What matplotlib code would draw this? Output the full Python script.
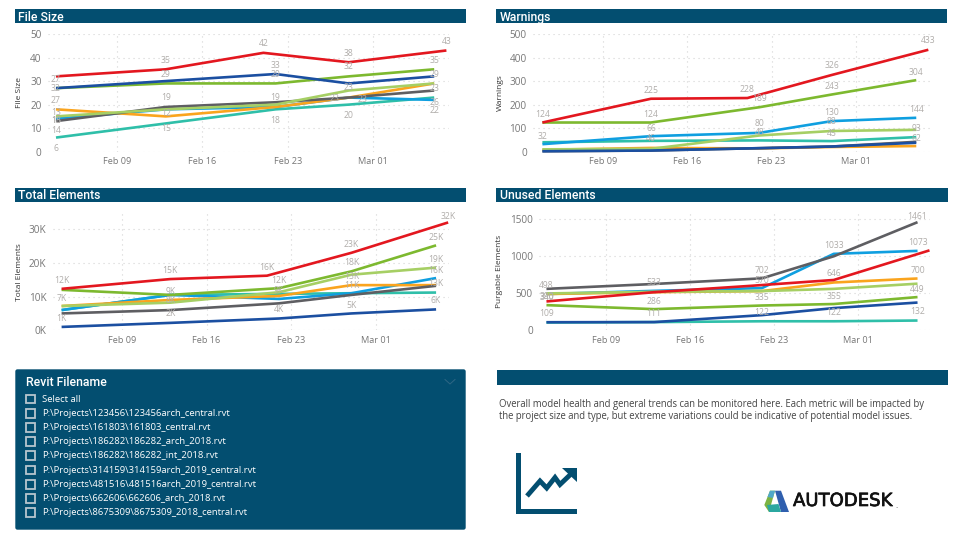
import matplotlib
matplotlib.use('Agg')
import matplotlib.pyplot as plt
import matplotlib.dates as mdates
import matplotlib.patheffects as pe
import pandas as pd
from matplotlib.patches import FancyBboxPatch, Polygon, Rectangle

plt.rcParams['font.family'] = ['Open Sans', 'DejaVu Sans']

W, H = 960, 538

# dates of the snapshots (red is a different model, its dates are a bit off)
dates = pd.to_datetime(['2020-02-04', '2020-02-13', '2020-02-22', '2020-02-28', '2020-03-06'])
dates_red = pd.to_datetime(['2020-02-04', '2020-02-13', '2020-02-21', '2020-02-28', '2020-03-07'])
tick_dates = pd.to_datetime(['2020-02-09', '2020-02-16', '2020-02-23', '2020-03-01'])
tick_names = ['Feb 09', 'Feb 16', 'Feb 23', 'Mar 01']

# File Size
size_teal = [6, 12, 18, 20, 23]
size_sky = [14, 18, 19, 23, 22]
size_orange = [18, 15, 19, 23, 29]
size_lime = [15, 18, 20, 26, 29]
size_green = [27, 29, 29, 32, 35]
size_blue = [27, 30, 33, 29, 32]
size_gray = [13, 19, 21, 23, 26]
size_red = [32, 35, 42, 38, 43]

# Warnings
warn_teal = [40, 46, 48, 45, 62]
warn_sky = [32, 66, 80, 130, 144]
warn_orange = [8, 16, 14, 20, 24]
warn_lime = [10, 12, 69, 88, 93]
warn_green = [124, 124, 189, 243, 304]
warn_blue = [2, 5, 15, 22, 38]
warn_gray = [2, 5, 15, 22, 42]
warn_red = [124, 225, 228, 326, 433]

# Total Elements (thousands)
total_teal = [6, 10.5, 10.8, 11, 11.2]
total_sky = [6, 10.5, 9.3, 11, 15.5]
total_orange = [7.2, 9, 10.2, 13.4, 13.4]
total_lime = [7.2, 8.2, 11.3, 16.5, 18.6]
total_green = [12, 10.5, 12.5, 17.5, 25.2]
total_blue = [1, 2.2, 3.5, 5, 6.2]
total_gray = [5, 6, 8, 10.5, 13.2]
total_red = [12.3, 15.2, 16.2, 23, 32]

# Unused Elements
unused_teal = [105, 111, 122, 122, 132]
unused_sky = [490, 533, 570, 1033, 1073]
unused_orange = [490, 515, 530, 646, 700]
unused_lime = [498, 520, 530, 560, 630]
unused_green = [340, 286, 335, 355, 449]
unused_blue = [109, 111, 205, 300, 375]
unused_gray = [560, 626, 702, 1000, 1461]
unused_red = [390, 515, 600, 680, 1080]

filenames = ['Select all',
             'P:\\Projects\\123456\\123456arch_central.rvt',
             'P:\\Projects\\161803\\161803_central.rvt',
             'P:\\Projects\\186282\\186282_arch_2018.rvt',
             'P:\\Projects\\186282\\186282_int_2018.rvt',
             'P:\\Projects\\314159\\314159arch_2019_central.rvt',
             'P:\\Projects\\481516\\481516arch_2019_central.rvt',
             'P:\\Projects\\662606\\662606_arch_2018.rvt',
             'P:\\Projects\\8675309\\8675309_2018_central.rvt']

colors = {'teal': '#2FBFA9', 'sky': '#0F9FE0', 'orange': '#FAA41E', 'lime': '#A6CF64',
          'green': '#7DB92F', 'blue': '#1B4FA1', 'gray': '#5E5E62', 'red': '#E3171F'}
order = ['teal', 'sky', 'orange', 'gray', 'lime', 'green', 'blue', 'red']
NAVY = '#034E70'
LABEL = '#B0ADAA'

fig = plt.figure(figsize=(W / 100, H / 100), dpi=100, facecolor='white')


def make_axes(left, right, top, bottom):
    return fig.add_axes([left / W, 1 - bottom / H, (right - left) / W, (bottom - top) / H])


def draw_chart(box, tick0, day_px, series, ylim, yticks, yfmt, ylabel, label_x, dy, dx=None, lab_fmt='{}'):
    left, right, top, bottom = box
    ax = make_axes(left, right, top, bottom)
    ax.patch.set_alpha(0)
    d0 = mdates.date2num(tick_dates[0])
    ax.set_xlim(d0 + (left - tick0) / day_px, d0 + (right - tick0) / day_px)
    ax.set_ylim(*ylim)
    for name in order:
        x = dates_red if name == 'red' else dates
        ax.plot(x, series[name], color=colors[name], lw=1.9, solid_capstyle='butt',
                solid_joinstyle='round', clip_on=False)
    # data labels, each one tied to its point
    for name, shifts in dy.items():
        x = dates_red if name == 'red' else dates
        for i, shift in enumerate(shifts):
            if shift is None:
                continue
            off = (dx or {}).get((name, i), 0)
            ax.annotate(lab_fmt.format(round(series[name][i])), (x[i], series[name][i]),
                        xytext=(off, shift), textcoords='offset pixels', ha='center', va='center',
                        fontsize=6.2, color=LABEL, annotation_clip=False)
    ax.set_xticks(tick_dates)
    ax.set_xticklabels(tick_names)
    ax.set_yticks(yticks)
    ax.set_yticklabels([yfmt.format(v) for v in yticks])
    ax.tick_params(axis='x', length=0, pad=4, labelsize=6.6, labelcolor='#777777')
    ax.tick_params(axis='y', length=0, pad=4.5, labelsize=7.2, labelcolor='#777777')
    ax.grid(True, color='#D4D4D4', lw=0.8, linestyle=(0, (1, 3.5)))
    ax.set_axisbelow(True)
    for s in ax.spines.values():
        s.set_visible(False)
    ax.set_ylabel(ylabel, fontsize=6, color='#333333')
    ax.yaxis.set_label_coords((label_x - left) / (right - left), 0.5)
    return ax


size_series = dict(teal=size_teal, sky=size_sky, orange=size_orange, lime=size_lime,
                   green=size_green, blue=size_blue, gray=size_gray, red=size_red)
draw_chart((48, 449, 34, 151.7), 117, 12.2, size_series, (0, 50), [0, 10, 20, 30, 40, 50], '{}', 'File Size', 22.7,
           {'red': [-12, 9, 9, 9, 9], 'green': [9, 9, 9, 10, 9], 'blue': [-12, None, 9, None, None],
            'lime': [-4, None, None, None, 9], 'sky': [-12, None, 9, -1, -11], 'orange': [-11, -12, None, -2, None],
            'teal': [-11, 10, -11, -11, 9], 'gray': [9, 9, None, 10, -12]},
           dx={('sky', 3): -14, ('orange', 3): 14})

warn_series = dict(teal=warn_teal, sky=warn_sky, orange=warn_orange, lime=warn_lime,
                   green=warn_green, blue=warn_blue, gray=warn_gray, red=warn_red)
draw_chart((533, 930, 34, 151.7), 602.7, 12.06, warn_series, (0, 500), [0, 100, 200, 300, 400, 500], '{}', 'Warnings', 504,
           {'red': [8, 8, 9, 9, 9], 'green': [None, 8, 9, 8, 8], 'sky': [8, 8, 9, 9, 8],
            'lime': [None, None, None, 9, 1], 'teal': [None, 2, 8, 8, -1]})

total_series = dict(teal=total_teal, sky=total_sky, orange=total_orange, lime=total_lime,
                    green=total_green, blue=total_blue, gray=total_gray, red=total_red)
draw_chart((52.7, 449, 213, 330.3), 122, 12.08, total_series, (0, 34.8), [0, 10, 20, 30], '{}K', 'Total Elements', 22.7,
           {'red': [8, 9, 8, 8, 6], 'green': [None, None, 8, 9, 8], 'lime': [8, 2, None, None, 8],
            'sky': [None, None, 8, 8, 8], 'orange': [None, 8, None, 9, None], 'blue': [8, 9, 9, 8, 9],
            'gray': [None, None, None, None, 2]}, lab_fmt='{}K')

unused_series = dict(teal=unused_teal, sky=unused_sky, orange=unused_orange, lime=unused_lime,
                     green=unused_green, blue=unused_blue, gray=unused_gray, red=unused_red)
draw_chart((539, 930, 213, 330.3), 606.3, 11.97, unused_series, (0, 1585), [0, 500, 1000, 1500], '{}', 'Purgable Elements', 503,
           {'lime': [8, None, None, None, None], 'green': [8, 8, 8, 8, 8], 'red': [5, None, None, None, None],
            'blue': [9, None, None, None, None], 'sky': [None, 8, 8, 8, 8], 'teal': [None, 9, 9, 9, 9],
            'gray': [None, None, 8, None, 6], 'orange': [None, None, None, 9, 8]})

# everything around the charts, drawn in pixels
bg = fig.add_axes([0, 0, 1, 1], zorder=-1)
bg.set_xlim(0, W)
bg.set_ylim(H, 0)
bg.axis('off')

headers = [(15, 466, 9.3, 23.3, 'File Size'), (496, 947, 9.3, 23.3, 'Warnings'),
           (15, 466, 188, 202.3, 'Total Elements'), (496, 948, 188, 202.3, 'Unused Elements')]
for x0, x1, y0, y1, title in headers:
    bg.add_patch(Rectangle((x0, y0), x1 - x0, y1 - y0, color=NAVY, lw=0))
    bg.text(x0 + 3.5, (y0 + y1) / 2 + 0.8, title, color='white', fontsize=8.8, fontweight='medium',
            family=['Roboto', 'DejaVu Sans'], va='center')
bg.add_patch(Rectangle((497.3, 370), 450.7, 15, color=NAVY, lw=0))

# slicer panel
bg.add_patch(FancyBboxPatch((16, 370), 449, 159, boxstyle='round,pad=0,rounding_size=1.5', fc=NAVY, ec=NAVY, lw=1))
bg.text(26, 382.5, 'Revit Filename', color='white', fontsize=8.8, fontweight='medium',
        family=['Roboto', 'DejaVu Sans'], va='center')
bg.plot([445, 450, 455], [379.5, 384, 379.5], color='#2F6785', lw=0.7)
row_y = [399, 413.3, 427.3, 441.7, 455.7, 470, 484.3, 498.3, 512.7]
for y, name in zip(row_y, filenames):
    bg.add_patch(Rectangle((26.3, y - 4.3), 8.6, 8.6, fc='none', ec='#B7C5CE', lw=1.3))
    bg.text(42, y + 0.2, name, color='white', fontsize=6.8, va='center')

# note under the blank bar
bg.text(499, 404, 'Overall model health and general trends can be monitored here. Each metric will be impacted by',
        color='#444444', fontsize=6.85, va='center')
bg.text(499, 417, 'the project size and type, but extreme variations could be indicative of potential model issues.',
        color='#444444', fontsize=6.85, va='center')

# chart icon
bg.add_patch(Polygon([(516, 453), (521, 453), (521, 509), (577, 509), (577, 513.5), (516, 513.5)], color=NAVY, lw=0))
bg.plot([527, 540, 546.7, 555, 560, 571], [496, 481, 488, 477.5, 484.5, 474], color=NAVY, lw=3.5,
        solid_joinstyle='miter', solid_capstyle='butt')
bg.add_patch(Polygon([(562.3, 468.3), (576.7, 468.3), (576.7, 482)], color=NAVY, lw=0))

# Autodesk mark
bg.add_patch(Polygon([(770, 490.7), (775, 490.7), (769, 512), (764.3, 505)], color='#7CB342', lw=0))
bg.add_patch(Polygon([(775, 490.7), (781, 490.7), (789, 512), (781, 512)], color='#2F5FAE', lw=0))
bg.add_patch(Polygon([(767, 505), (778.5, 504), (781, 512), (769, 512)], color='#2BA7A0', lw=0))
bg.add_patch(Polygon([(770, 490.7), (775, 490.7), (773, 498), (767.5, 497)], color='#4FA8C9', lw=0))
logo = bg.text(793, 501, 'AUTODESK', color='#111111', fontsize=13, va='center', family=['DejaVu Sans'])
logo.set_path_effects([pe.withStroke(linewidth=0.5, foreground='#111111')])
bg.text(895, 506, '.', color='#555555', fontsize=6, va='center')

fig.savefig('out.png', dpi=100)
